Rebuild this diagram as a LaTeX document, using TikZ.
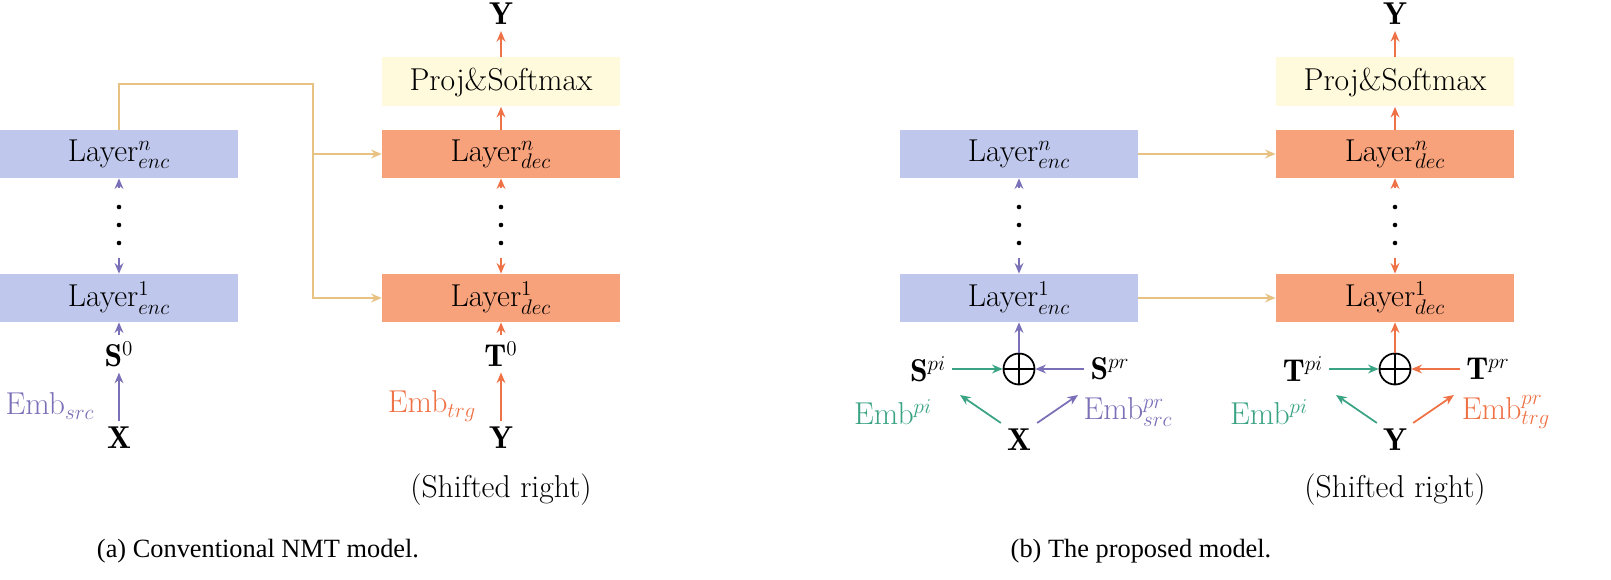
\documentclass[tikz,border=0pt]{standalone}
\usepackage{fontspec}
\newfontfamily\capfont{Liberation Serif}
\usetikzlibrary{arrows.meta}
\definecolor{encc}{HTML}{BFC8EC}
\definecolor{decc}{HTML}{F8A27C}
\definecolor{projc}{HTML}{FFFADC}
\definecolor{purp}{HTML}{7A70B8}
\definecolor{grn}{HTML}{3AA384}
\definecolor{org}{HTML}{EE7245}
\definecolor{tan}{HTML}{E8C282}
\begin{document}
\begin{tikzpicture}[x=0.02cm,y=-0.02cm,
  every node/.style={font=\fontsize{18}{22}\selectfont},
  enc/.style={fill=encc,minimum width=4.76cm,minimum height=0.96cm,inner sep=0},
  dec/.style={fill=decc,minimum width=4.76cm,minimum height=0.96cm,inner sep=0},
  proj/.style={fill=projc,minimum width=4.76cm,minimum height=0.98cm,inner sep=0},
  ar/.style={-{Stealth[length=6pt,width=5pt]},line width=1pt},
  pa/.style={ar,purp}, oa/.style={ar,org}, ga/.style={ar,grn},
  ca/.style={ar,tan},
  dotmark/.style={circle,fill=black,inner sep=0,minimum size=2.6pt},
  captxt/.style={font=\capfont\fontsize{15}{18}\selectfont},
  op/.style={circle,draw,line width=1pt,minimum size=0.62cm,inner sep=0}]
\useasboundingbox (0,0) rectangle (1611,580);
\foreach \xx in {119,501,1019,1395}{
  \foreach \yy in {207,225,243}{\node[dotmark] at (\xx,\yy) {};}}
% ---------- (a)
\node[enc] (en) at (119,154) {Layer$^n_{enc}$};
\node[enc] (e1) at (119,298) {Layer$^1_{enc}$};
\node[dec] (dn) at (501,154) {Layer$^n_{dec}$};
\node[dec] (d1) at (501,298) {Layer$^1_{dec}$};
\node[proj] (pr) at (501,82) {Proj\&Softmax};
\node (y) at (501,14) {$\mathbf{Y}$};
\node (s0) at (119,354) {$\mathbf{S}^0$};
\node (x) at (119,438) {$\mathbf{X}$};
\node[purp] at (50,406) {Emb$_{src}$};
\node (t0) at (501,354) {$\mathbf{T}^0$};
\node (yi) at (501,438) {$\mathbf{Y}$};
\node[org] at (432,406) {Emb$_{trg}$};
\node at (501,490) {(Shifted right)};
\node[captxt] at (258,551) {(a) Conventional NMT model.};
\draw[pa] (119,188) -- (en.south);
\draw[pa] (119,258) -- (e1.north);
\draw[pa] (s0.north) -- (e1.south);
\draw[pa] (x.north) -- (s0.south);
\draw[oa] (501,188) -- (dn.south);
\draw[oa] (501,258) -- (d1.north);
\draw[oa] (t0.north) -- (d1.south);
\draw[oa] (yi.north) -- (t0.south);
\draw[oa] (dn.north) -- (pr.south);
\draw[oa] (pr.north) -- (y.south);
\coordinate (b) at (313,154);
\draw[tan,line width=1pt] (en.north) -- (119,84) -- (313,84) -- (b);
\draw[ca] (b) -- (dn.west);
\draw[ca] (b) |- (d1.west);
% ---------- (b)
\node[enc] (en2) at (1019,154) {Layer$^n_{enc}$};
\node[enc] (e12) at (1019,298) {Layer$^1_{enc}$};
\node[dec] (dn2) at (1395,154) {Layer$^n_{dec}$};
\node[dec] (d12) at (1395,298) {Layer$^1_{dec}$};
\node[proj] (pr2) at (1395,82) {Proj\&Softmax};
\node (y2) at (1395,14) {$\mathbf{Y}$};
\draw[pa] (1019,188) -- (en2.south);
\draw[pa] (1019,258) -- (e12.north);
\draw[oa] (1395,188) -- (dn2.south);
\draw[oa] (1395,258) -- (d12.north);
\draw[oa] (dn2.north) -- (pr2.south);
\draw[oa] (pr2.north) -- (y2.south);
\draw[ca] (en2.east) -- (dn2.west);
\draw[ca] (e12.east) -- (d12.west);
\node[op] (o1) at (1019,369) {};
\draw[line width=1pt] (o1.north) -- (o1.south) (o1.west) -- (o1.east);
\node (spi) at (928,369) {$\mathbf{S}^{pi}$};
\node (spr) at (1110,369) {$\mathbf{S}^{pr}$};
\node (x2) at (1019,440) {$\mathbf{X}$};
\node[grn] at (893,412) {Emb$^{pi}$};
\node[purp] at (1128,412) {Emb$^{pr}_{src}$};
\draw[pa] (o1.north) -- (e12.south);
\draw[ga] (spi.east) -- (o1.west);
\draw[pa] (spr.west) -- (o1.east);
\draw[ga] (x2.north west) -- (960,395);
\draw[pa] (x2.north east) -- (1078,395);
\node[op] (o2) at (1395,369) {};
\draw[line width=1pt] (o2.north) -- (o2.south) (o2.west) -- (o2.east);
\node (tpi) at (1303,369) {$\mathbf{T}^{pi}$};
\node (tpr) at (1488,369) {$\mathbf{T}^{pr}$};
\node (y3) at (1395,440) {$\mathbf{Y}$};
\node[grn] at (1269,412) {Emb$^{pi}$};
\node[org] at (1506,412) {Emb$^{pr}_{trg}$};
\draw[oa] (o2.north) -- (d12.south);
\draw[ga] (tpi.east) -- (o2.west);
\draw[oa] (tpr.west) -- (o2.east);
\draw[ga] (y3.north west) -- (1336,395);
\draw[oa] (y3.north east) -- (1454,395);
\node at (1395,490) {(Shifted right)};
\node[captxt] at (1141,551) {(b) The proposed model.};
\end{tikzpicture}
\end{document}
